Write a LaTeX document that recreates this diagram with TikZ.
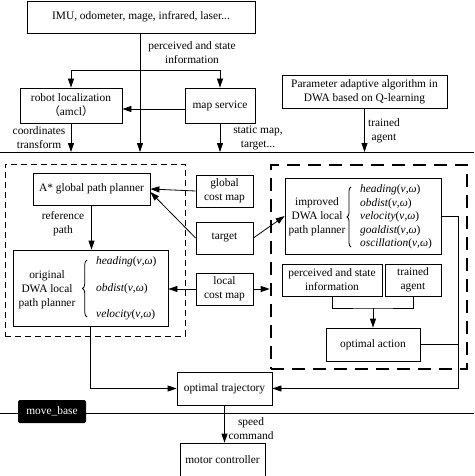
\documentclass[tikz,border=0pt]{standalone}
\usepackage{fontspec}
\setmainfont{Liberation Serif}
\newfontfamily\cjk{Noto Sans CJK SC}
\usetikzlibrary{arrows.meta,decorations.pathreplacing,calc}
\begin{document}
\begin{tikzpicture}[x=1pt,y=-1pt,
  every node/.style={font=\fontsize{11.4}{14}\selectfont, inner sep=0pt},
  box/.style={draw, line width=0.8pt, align=center},
  ln/.style={line width=0.8pt},
  arr/.style={line width=0.8pt, -{Triangle[length=9pt,width=6pt]}},
  lbl/.style={align=center},
  fn/.style={anchor=west, font=\fontsize{11.4}{13.6}\selectfont, align=left}]
\useasboundingbox (0,0) rectangle (474,476);
% separators
\coordinate (sepA) at (0,152);
\coordinate (sepB) at (0,413);
\draw[ln] (0,152) -- (474,152);
\draw[ln] (0,413) -- (474,413);
% top region
\node[box, minimum width=228, minimum height=32] (sens) at (141,17) {IMU, odometer, mage, infrared, laser...};
\node[box, minimum width=102, minimum height=35] (robot) at (71,105.5) {robot localization\\{\cjk （}amcl{\cjk ）}};
\node[box, minimum width=70, minimum height=35] (map) at (220,105.5) {map service};
\node[box, minimum width=165, minimum height=33] (param) at (364.5,91.5) {Parameter adaptive algorithm in\\DWA based on Q-learning};
\coordinate (br) at (140,70);
\draw[arr] (sens.south -| br) -- (br |- sepA);
\draw[arr] (br) -| (robot.north);
\draw[arr] (br) -| (map.north);
\draw[arr] ([yshift=-3.5pt]map.west) -- ([yshift=-3.5pt]robot.east);
\draw[arr] (robot.south) -- (robot.south |- sepA);
\draw[arr] (map.south) -- (map.south |- sepA);
\draw[arr] (param.south) -- (param.south |- sepA);
\node[lbl] (l1) at (192,52.5) {perceived and state\\information};
\node[lbl] (l2) at (39,137.5) {coordinates\\transform};
\node[lbl] (l3) at (258,137.5) {static map,\\target...};
\node[lbl] (l4) at (384,131) {trained\\agent};
% middle: dashed boxes
\node[draw, line width=0.8pt, dash pattern=on 6pt off 4pt, minimum width=180, minimum height=172] (lbox) at (95,250) {};
\node[draw, line width=2.6pt, dash pattern=on 13pt off 8pt, minimum width=196, minimum height=204] (rbox) at (369,267) {};
\node[box, minimum width=117, minimum height=32] (astar) at (91.5,189) {A* global path planner};
\node[box, minimum width=57, minimum height=32] (gcm) at (224.5,191) {global\\cost map};
\node[box, minimum width=57, minimum height=32] (tgt) at (224.5,238) {target};
\node[box, minimum width=57, minimum height=32] (lcm) at (224.5,289) {local\\cost map};
\node[box, minimum width=155, minimum height=76] (orig) at (90.5,288) {};
\node[lbl] (origt) at (47,290) {original\\DWA local\\path planner};
\draw[ln, decorate, decoration={brace, amplitude=4.5pt}] (87,317) -- (87,260);
\node[fn] (f1) at (96,262) {\itshape heading\upshape(\itshape v\upshape,\itshape ω\upshape)};
\node[fn] (f2) at (96,288.5) {\itshape obdist\upshape(\itshape v\upshape,\itshape ω\upshape)};
\node[fn] (f3) at (96,315) {\itshape velocity\upshape(\itshape v\upshape,\itshape ω\upshape)};
\draw[arr] (gcm.west) -- (astar.east);
\draw[arr] (tgt.west) -- ([yshift=-3pt]astar.east);
\draw[arr] (lcm.west) -- (orig.east |- lcm.west);
\draw[arr] (astar.south) -- (orig.north -| astar.south);
\node[lbl] (l5) at (63,223.5) {reference\\path};
% right dashed box content
\node[box, minimum width=156, minimum height=76] (imp) at (363,216) {};
\node[lbl] (impt) at (317,217) {improved\\DWA local\\path planner};
\draw[ln, decorate, decoration={brace, amplitude=4pt}] (351,247) -- (351,187);
\node[fn] (g1) at (360,217) {\itshape heading\upshape(\itshape v\upshape,\itshape ω\upshape)\\
\itshape obdist\upshape(\itshape v\upshape,\itshape ω\upshape)\\
\itshape velocity\upshape(\itshape v\upshape,\itshape ω\upshape)\\
\itshape goaldist\upshape(\itshape v\upshape,\itshape ω\upshape)\\
\itshape oscillation\upshape(\itshape v\upshape,\itshape ω\upshape)};
\node[box, minimum width=100, minimum height=32] (pers) at (332,280) {perceived and state\\information};
\node[box, minimum width=56, minimum height=32] (tra) at (413,280) {trained\\agent};
\node[box, minimum width=94, minimum height=33] (oact) at (373,344.5) {optimal action};
\coordinate (jn) at (373,308);
\draw[ln] (pers.south) |- (jn) -| (tra.south);
\draw[arr] (jn) -- (oact.north);
\draw[arr] (tgt.east) -- (imp.west);
\draw[arr] (lcm.east) -- (rbox.west |- lcm.east);
% bottom
\node[box, minimum width=95, minimum height=33] (otraj) at (224.5,388.5) {optimal trajectory};
\coordinate (rv) at (458,0);
\draw[arr] (imp.east) -- (imp.east -| rv) |- (otraj.east);
\draw[ln] (oact.east) -- (oact.east -| rv);
\draw[arr] (orig.south) |- (otraj.west);
\node[fill=black, rounded corners=1.5pt, minimum width=68, minimum height=23, text=white] (mb) at (52,411.5) {move\_base};
\node[box, minimum width=85, minimum height=40] (motor) at (222.5,463) {};
\node (motort) at (222.5,460) {motor controller};
\draw[arr] (otraj.south) -- (motor.north -| otraj.south);
\node[lbl] (l6) at (251,428.5) {speed\\command};
\end{tikzpicture}
\end{document}
